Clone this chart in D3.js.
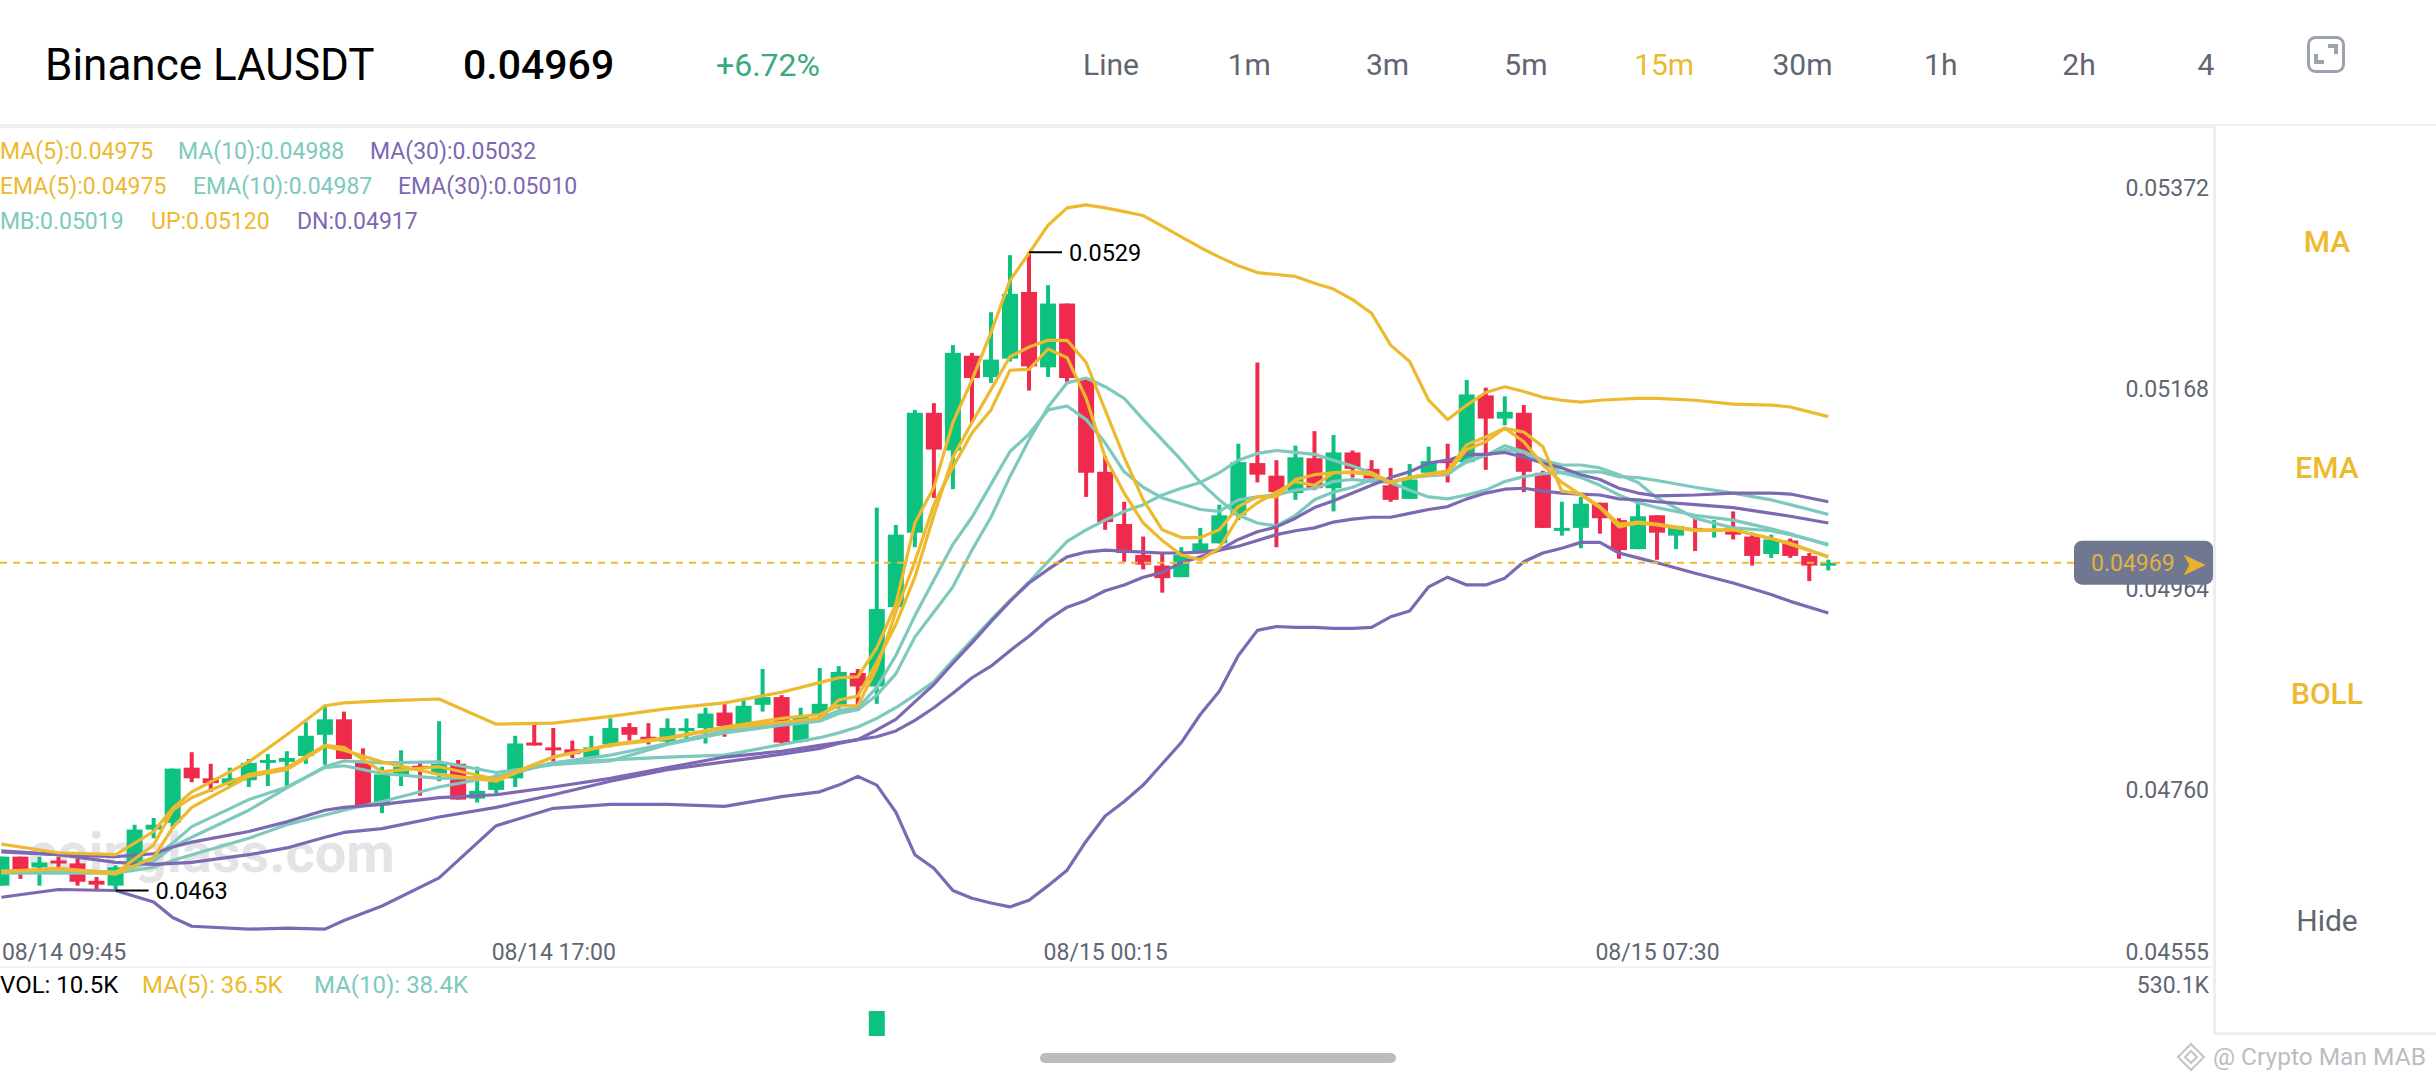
<!DOCTYPE html>
<html>
<head>
<meta charset="utf-8">
<script src="https://cdn.jsdelivr.net/npm/d3@7"></script>
<style>
  html, body { margin: 0; padding: 0; background: #fff; }
  text { font-family: Roboto, sans-serif; }
</style>
</head>
<body>
<svg id="chart" width="2436" height="1080"></svg>
<script>
// prices are in units of 0.00001 USDT
const open = [4635,4665,4654,4661,4658,4640,4635,4656,4693,4700,
  4757,4746,4740,4744,4763,4763,4769,4791,4807,4764,
  4718,4749,4759,4751,4761,4725,4734,4746,4783,4778,
  4776,4768,4781,4799,4789,4784,4797,4798,4814,4801,
  4822,4830,4784,4811,4822,4855,4841,4923,5000,5124,
  5085,5183,5161,5180,5249,5171,5237,5158,5063,5009,
  4977,4966,4954,4979,4989,5018,5072,5059,5041,5077,
  5046,5083,5066,5049,5035,5062,5075,5073,5142,5118,
  5124,5062,5004,5005,5031,5013,4983,5018,4997,5005,
  5003,5005,4996,4978,4992,4976,4966]
const close = [4665,4651,4659,4658,4639,4636,4654,4693,4698,4756,
  4746,4741,4746,4762,4765,4767,4790,4807,4766,4718,
  4750,4758,4756,4761,4724,4733,4744,4782,4780,4775,
  4771,4778,4798,4791,4785,4798,4798,4813,4800,4821,
  4830,4783,4810,4823,4856,4841,4921,4998,5124,5086,
  5186,5160,5179,5247,5172,5237,5160,5062,5011,4979,
  4967,4953,4977,4989,5018,5073,5060,5042,5078,5046,
  5083,5066,5056,5034,5055,5074,5072,5143,5118,5125,
  5063,5005,5005,5030,5015,4982,5017,5000,5007,5002,
  5004,4998,4976,4993,4976,4966,4969]
const high = [4665,4665,4665,4665,4663,4644,4656,4698,4705,4756,
  4773,4761,4757,4766,4771,4774,4804,4822,4815,4777,
  4758,4775,4762,4805,4765,4758,4750,4790,4803,4798,
  4785,4790,4808,4803,4803,4808,4808,4819,4823,4827,
  4859,4832,4819,4860,4862,4859,5026,5008,5127,5134,
  5194,5186,5228,5287,5290,5256,5237,5160,5079,5032,
  4996,4979,4985,5005,5029,5092,5176,5075,5090,5105,
  5101,5085,5075,5067,5071,5089,5092,5158,5150,5141,
  5132,5064,5032,5037,5031,5015,5031,5018,5007,5015,
  5013,5022,5000,4998,4994,4979,4972]
const low = [4635,4642,4635,4654,4635,4631,4630,4656,4684,4694,
  4742,4732,4737,4737,4738,4738,4761,4760,4766,4718,
  4710,4738,4728,4743,4724,4721,4730,4737,4780,4763,
  4767,4767,4778,4785,4781,4782,4787,4782,4789,4800,
  4815,4780,4783,4808,4818,4816,4823,4923,4985,5036,
  5045,5114,5155,5177,5147,5161,5155,5037,5003,4970,
  4962,4938,4954,4979,4989,5013,5052,4985,5034,5044,
  5022,5057,5055,5032,5035,5060,5052,5072,5065,5111,
  5042,5005,4997,4984,4999,4973,4983,4972,4983,4981,
  4995,4993,4966,4974,4974,4950,4961]

// candle index of each point in the indicator lists below
const lineIndex = [0,3,6,8,9,10,13,15,17,18,20,23,26,29,32,35,38,41,43,
  44,45,46,47,48,49,50,51,52,53,54,55,56,57,58,59,60,61,62,63,64,65,
  66,67,68,69,70,71,72,73,74,75,76,77,78,79,80,81,82,83,84,85,86,87,
  89,91,93,94,96]

const up = [4678,4669,4667,4691,4715,4732,4763,4791,4821,4824,4826,4828,4802,4803,4810,4818,4824,4835,4845,
  4850,4851,4881,4926,5010,5047,5114,5158,5207,5261,5289,5318,5336,5339,5336,5332,5328,5317,5306,5295,5285,5276,
  5269,5267,5265,5258,5252,5241,5227,5194,5177,5137,5117,5132,5145,5151,5146,5140,5137,5135,5137,5138,5139,5139,
  5137,5133,5132,5130,5120]
const ma5 = [4649,4653,4648,4677,4713,4726,4750,4757,4780,4778,4753,4758,4745,4768,4781,4788,4799,4808,4812,
  4821,4821,4860,4918,4970,5029,5068,5103,5127,5168,5169,5190,5181,5139,5078,5041,5010,4992,4977,4972,4984,5016,
  5031,5042,5053,5049,5062,5062,5060,5052,5057,5060,5062,5086,5094,5108,5094,5070,5052,5039,5026,5006,5010,5008,
  5002,5003,4994,4988,4975]
const ema5 = [4650,4652,4647,4664,4695,4716,4748,4755,4779,4775,4763,4750,4743,4768,4780,4787,4798,4804,4808,
  4827,4831,4866,4905,4954,5018,5078,5114,5148,5182,5192,5199,5199,5176,5127,5078,5034,5003,4995,4995,5003,5027,
  5037,5037,5055,5060,5062,5063,5062,5052,5057,5061,5064,5091,5099,5108,5104,5089,5043,5040,5027,5009,5011,5009,
  5003,5003,4994,4989,4975]
const ma10 = [4650,4650,4649,4660,4675,4685,4713,4736,4758,4764,4762,4763,4752,4760,4764,4781,4793,4801,4805,
  4813,4817,4832,4854,4892,4918,4944,4982,5016,5058,5096,5130,5155,5160,5151,5139,5117,5096,5075,5052,5034,5018,
  5010,5007,5018,5034,5042,5047,5055,5052,5057,5059,5060,5075,5080,5090,5084,5075,5070,5070,5067,5060,5052,5036,
  5015,5005,5002,4998,4988]
const ema10 = [4649,4651,4649,4664,4679,4696,4724,4737,4757,4759,4751,4746,4747,4762,4770,4782,4795,4802,4808,
  4816,4819,4840,4873,4914,4951,4988,5016,5050,5084,5102,5127,5131,5117,5093,5063,5047,5036,5030,5024,5022,5034,
  5037,5039,5044,5046,5053,5055,5053,5052,5057,5060,5062,5073,5080,5086,5083,5072,5062,5057,5049,5039,5031,5026,
  5018,5013,5004,4999,4987]
const mb = [4648,4648,4648,4654,4661,4667,4684,4698,4708,4713,4722,4737,4748,4762,4765,4768,4770,4781,4788,
  4793,4799,4808,4819,4832,4846,4868,4889,4910,4930,4949,4970,4991,5003,5013,5022,5029,5039,5046,5052,5062,5075,
  5082,5085,5083,5081,5075,5069,5062,5052,5044,5037,5035,5039,5044,5053,5058,5061,5062,5063,5063,5058,5057,5054,
  5047,5041,5034,5029,5019]
const ma30 = [4670,4667,4659,4657,4658,4659,4667,4674,4685,4690,4694,4706,4716,4729,4743,4755,4763,4771,4777,
  4782,4786,4789,4795,4806,4819,4834,4850,4862,4878,4893,4910,4923,4930,4940,4946,4954,4959,4969,4975,4982,4993,
  5001,5006,5015,5026,5033,5041,5049,5057,5063,5072,5075,5081,5081,5083,5078,5072,5067,5060,5055,5046,5041,5038,
  5039,5041,5041,5040,5032]
const ema30 = [4671,4667,4665,4668,4675,4680,4691,4701,4713,4716,4719,4726,4729,4737,4746,4757,4768,4774,4780,
  4783,4786,4796,4807,4825,4843,4865,4886,4908,4929,4948,4962,4975,4980,4982,4981,4980,4979,4979,4980,4982,4986,
  4992,4998,5002,5005,5011,5014,5016,5016,5020,5024,5027,5035,5041,5045,5046,5043,5041,5040,5039,5035,5034,5032,
  5029,5026,5020,5017,5010]
const dn = [4623,4631,4630,4618,4602,4593,4590,4591,4590,4599,4614,4643,4697,4715,4719,4719,4717,4727,4732,
  4739,4748,4739,4711,4667,4653,4630,4622,4617,4613,4620,4635,4651,4681,4707,4722,4739,4761,4783,4812,4836,4873,
  4899,4903,4902,4902,4901,4901,4902,4913,4919,4944,4954,4946,4946,4953,4970,4979,4984,4990,4990,4979,4974,4969,
  4958,4948,4936,4929,4917]

const lastPrice = 4969
const priceTicks = [5372, 5168, 4964, 4760, 4555]
const timeIndex = [0, 29, 58, 87]
const timeLabels = ['08/14 09:45', '08/14 17:00', '08/15 00:15', '08/15 07:30']
const periods = ['Line', '1m', '3m', '5m', '15m', '30m', '1h', '2h', '4']
const activePeriod = '15m'
const sideButtons = ['MA', 'EMA', 'BOLL', 'Hide']
const volIndex = [46]
const volValues = [530.1]

const YELLOW = '#edb92e', TEAL = '#7dc9bd', PURPLE = '#7d68b3'
const GREEN = '#0cc27e', RED = '#ef2a4d'
const GREY = '#5f6672'
const RULE = '#eceef2'

const width = 2436, height = 1080
const svg = d3.select('#chart')

const x = d3.scaleLinear().domain([0, 96]).range([1.4, 1828.3])
const y = d3.scaleLinear().domain([4555, 5372]).range([963, 173])
// the app spaces its price labels on their own grid, not on the candle scale
const labelY = d3.scaleLinear().domain([5372, 4760]).range([188, 790])
const volY = d3.scaleLinear().domain([0, 530.1]).range([1036, 1011])

function label(parent, txt, px, py, size, fill, anchor, weight) {
  return parent.append('text')
    .attr('x', px).attr('y', py)
    .attr('dominant-baseline', 'central')
    .attr('font-size', size)
    .attr('fill', fill)
    .attr('text-anchor', anchor || 'start')
    .attr('font-weight', weight || 400)
    .text(txt)
}

// -------- frame --------
svg.append('rect').attr('x', 0).attr('y', 124).attr('width', 2214).attr('height', 4).attr('fill', RULE)
svg.append('rect').attr('x', 2214).attr('y', 124).attr('width', 222).attr('height', 2).attr('fill', RULE)
svg.append('rect').attr('x', 2213).attr('y', 124).attr('width', 3).attr('height', 910).attr('fill', RULE)
svg.append('rect').attr('x', 2214).attr('y', 1032).attr('width', 222).attr('height', 3).attr('fill', RULE)
svg.append('rect').attr('x', 0).attr('y', 966).attr('width', 2214).attr('height', 2).attr('fill', '#f1f2f4')

// -------- header --------
label(svg, 'Binance LAUSDT', 45, 65, 44, '#000')
label(svg, '0.04969', 463, 65, 41, '#000', 'start', 500)
label(svg, '+6.72%', 716, 65, 32, '#3aa97c')

const periodX = d3.scalePoint().domain(periods.slice(0, 8)).range([1111, 2079])
periods.forEach(p => {
  const px = p === '4' ? 2206 : periodX(p)
  label(svg, p, px, 64, 30, p === activePeriod ? YELLOW : GREY, 'middle')
})

const icon = svg.append('g').attr('transform', 'translate(2307,36)')
icon.append('rect').attr('x', 1.5).attr('y', 1.5).attr('width', 35).attr('height', 34).attr('rx', 7)
  .attr('fill', 'none').attr('stroke', '#9ca2ae').attr('stroke-width', 3)
icon.append('path').attr('d', 'M21 8h10v10h-4v-6h-6zM7 18h4v6h6v4H7z').attr('fill', '#9ca2ae')

// -------- side buttons --------
const sideY = d3.scalePoint().domain(sideButtons).range([241, 920])
sideButtons.forEach(b => {
  label(svg, b, 2327, sideY(b), 30, b === 'Hide' ? GREY : YELLOW, 'middle', b === 'Hide' ? 400 : 500)
})

// -------- indicator legends --------
const legendRows = [
  [151, [['MA(5):0.04975', YELLOW, 0], ['MA(10):0.04988', TEAL, 178], ['MA(30):0.05032', PURPLE, 370]]],
  [186, [['EMA(5):0.04975', YELLOW, 0], ['EMA(10):0.04987', TEAL, 193], ['EMA(30):0.05010', PURPLE, 398]]],
  [221, [['MB:0.05019', TEAL, 0], ['UP:0.05120', YELLOW, 151], ['DN:0.04917', PURPLE, 297]]]
]
legendRows.forEach(([py, items]) => {
  items.forEach(([t, c, px]) => label(svg, t, px, py, 23, c))
})

// -------- watermark --------
svg.append('text').attr('x', 28).attr('y', 872)
  .attr('font-size', 56).attr('font-weight', 700).attr('fill', '#e4e4e7')
  .text('coinglass.com')

// -------- candles --------
const candles = open.map((o, i) => ({ i, o, c: close[i], h: high[i], l: low[i] }))
const candleColor = d => d.c >= d.o ? GREEN : RED
const bodyW = 16, wickW = 4, minBody = 3

const candle = svg.append('g').selectAll('g').data(candles).join('g')
candle.append('rect')
  .attr('x', d => x(d.i) - wickW / 2)
  .attr('y', d => y(d.h))
  .attr('width', wickW)
  .attr('height', d => y(d.l) - y(d.h))
  .attr('fill', candleColor)
candle.append('rect')
  .attr('x', d => x(d.i) - bodyW / 2)
  .attr('y', d => y(Math.max(d.o, d.c)))
  .attr('width', bodyW)
  .attr('height', d => Math.max(y(Math.min(d.o, d.c)) - y(Math.max(d.o, d.c)), minBody))
  .attr('fill', candleColor)

// -------- indicator lines --------
const linePath = d3.line().x((d, k) => x(lineIndex[k])).y(d => y(d))
const indicators = [
  [mb, TEAL], [ma10, TEAL], [ema10, TEAL],
  [dn, PURPLE], [ma30, PURPLE], [ema30, PURPLE],
  [up, YELLOW], [ma5, YELLOW], [ema5, YELLOW]
]
svg.append('g').selectAll('path').data(indicators).join('path')
  .attr('d', d => linePath(d[0]))
  .attr('fill', 'none')
  .attr('stroke', d => d[1])
  .attr('stroke-width', 3.2)
  .attr('stroke-linejoin', 'round')

// -------- high / low marks --------
const maxHigh = d3.max(high), minLow = d3.min(low)
const iHigh = high.indexOf(maxHigh), iLow = low.indexOf(minLow)
svg.append('line').attr('x1', x(iHigh)).attr('x2', x(iHigh) + 33)
  .attr('y1', y(maxHigh)).attr('y2', y(maxHigh)).attr('stroke', '#000').attr('stroke-width', 2)
label(svg, (maxHigh / 1e5).toFixed(4), x(iHigh) + 40, y(maxHigh) + 1, 23.5, '#000')
svg.append('line').attr('x1', x(iLow)).attr('x2', x(iLow) + 33)
  .attr('y1', y(minLow)).attr('y2', y(minLow)).attr('stroke', '#000').attr('stroke-width', 2)
label(svg, (minLow / 1e5).toFixed(4), x(iLow) + 40, y(minLow) + 1, 23.5, '#000')

// -------- price axis --------
const priceAxis = svg.append('g').attr('transform', 'translate(2217,0)')
  .call(d3.axisLeft(labelY).tickValues(priceTicks).tickSize(0).tickPadding(8)
    .tickFormat(v => (v / 1e5).toFixed(5)))
priceAxis.select('.domain').remove()
priceAxis.selectAll('.tick').attr('transform', d => `translate(0,${Math.min(labelY(d), 952)})`)
priceAxis.selectAll('text').attr('font-size', 23).attr('fill', GREY).attr('dy', '0.35em')
  .style('font-family', 'Roboto, sans-serif')

// -------- last price line and tag --------
svg.append('line').attr('x1', 0).attr('x2', 2074)
  .attr('y1', y(lastPrice)).attr('y2', y(lastPrice))
  .attr('stroke', YELLOW).attr('stroke-width', 2).attr('stroke-dasharray', '7 6')
svg.append('rect').attr('x', 2074).attr('y', y(lastPrice) - 22).attr('width', 139).attr('height', 44)
  .attr('rx', 8).attr('fill', '#6f7890')
label(svg, '0.04969', 2091, y(lastPrice) + 1, 23, '#e2b141')
label(svg, '➤', 2180, y(lastPrice) + 1, 32, '#eab02f').style('font-family', 'DejaVu Sans')

// -------- time axis --------
const timeAxis = svg.append('g').attr('transform', 'translate(0,944)')
  .call(d3.axisBottom(x).tickValues(timeIndex).tickSize(0).tickPadding(0)
    .tickFormat((d, k) => timeLabels[k]))
timeAxis.select('.domain').remove()
timeAxis.selectAll('text').attr('font-size', 23).attr('fill', GREY)
  .style('font-family', 'Roboto, sans-serif')
  .attr('text-anchor', d => d === 0 ? 'start' : 'middle')

// -------- volume pane --------
label(svg, 'VOL: 10.5K', 0, 985, 24, '#000')
label(svg, 'MA(5): 36.5K', 142, 985, 24, YELLOW)
label(svg, 'MA(10): 38.4K', 314, 985, 24, TEAL)
label(svg, '530.1K', 2209, 985, 23, GREY, 'end')
svg.append('g').selectAll('rect').data(volIndex).join('rect')
  .attr('x', d => x(d) - bodyW / 2)
  .attr('width', bodyW)
  .attr('y', (d, k) => volY(volValues[k]))
  .attr('height', (d, k) => volY(0) - volY(volValues[k]))
  .attr('fill', GREEN)

// -------- scroll handle, credit --------
svg.append('rect').attr('x', 1040).attr('y', 1053).attr('width', 356).attr('height', 10)
  .attr('rx', 5).attr('fill', '#bcbcbc')
svg.append('path').attr('d', 'M2191 1044l13 13-13 13-13-13zM2191 1051l6 6-6 6-6-6z')
  .attr('fill', 'none').attr('stroke', '#c4c4c8').attr('stroke-width', 2)
label(svg, '@ Crypto Man MAB', 2213, 1056, 24.5, '#bcbcc2')
</script>
</body>
</html>
